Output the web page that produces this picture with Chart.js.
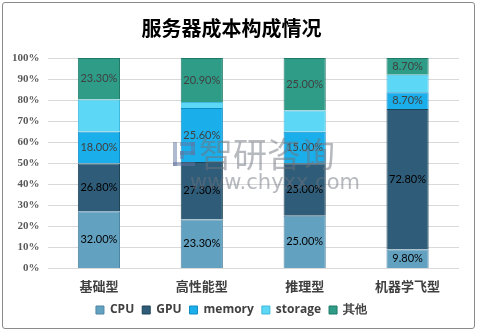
<!DOCTYPE html>
<html>
<head>
<meta charset="utf-8">
<script src="https://cdn.jsdelivr.net/npm/chart.js@4"></script>
<style>
  html, body { margin: 0; padding: 0; background: #fff; }
  #box {
    position: absolute; left: 2px; top: 2px;
    width: 473px; height: 327px;
    border: 1px solid #8a8a8a; border-radius: 3px;
    box-sizing: border-box; overflow: hidden;
  }
  #myChart { position: absolute; left: -3px; top: -3px; }
</style>
</head>
<body>
<div id="box"><canvas id="myChart" width="479" height="333"></canvas></div>
<script>
const categories = ["基础型", "高性能型", "推理型", "机器学飞型"];
const seriesNames = ["CPU", "GPU", "memory", "storage", "其他"];
const cpu = [32.0, 23.3, 25.0, 9.8];
const gpu = [26.8, 27.3, 25.0, 72.8];
const memory = [18.0, 25.6, 15.0, 8.7];
const storage = [17.9, 2.9, 10.0, 9.0];
const other = [23.3, 20.9, 25.0, 8.7];
const yTicks = [0, 10, 20, 30, 40, 50, 60, 70, 80, 90, 100];

const colors = ["#63a1c0", "#2f5c78", "#1aaeea", "#5cd8f6", "#2e9c87"];
const edges = ["#4f86a3", "#1d4357", "#0e8cc4", "#3fb8db", "#1f7a68"];
const labelColors = ["#000", "#000", "#404040", null, "#404040"];

const raw = [cpu, gpu, memory, storage, other];

// each category is shown as shares of its own total (100% stack)
const totals = categories.map((c, i) => raw.reduce((s, arr) => s + arr[i], 0));

const datasets = raw.map((arr, k) => ({
  label: seriesNames[k],
  data: arr.map((v, i) => v / totals[i] * 100),
  rawValues: arr,
  backgroundColor: colors[k],
  borderColor: edges[k],
  borderWidth: 1,
  barPercentage: 0.41,
  categoryPercentage: 1.0,
}));

// value labels in the middle of each segment
const segmentLabels = {
  id: "segmentLabels",
  afterDatasetsDraw(chart) {
    const ctx = chart.ctx;
    ctx.save();
    ctx.font = "11px Lato";
    ctx.textAlign = "center";
    ctx.textBaseline = "middle";
    chart.data.datasets.forEach((ds, k) => {
      if (!labelColors[k]) return;
      const meta = chart.getDatasetMeta(k);
      meta.data.forEach((bar, i) => {
        const y = (bar.y + bar.base) / 2;
        ctx.fillStyle = labelColors[k];
        ctx.fillText(ds.rawValues[i].toFixed(2) + "%", bar.x, y);
      });
    });
    ctx.restore();
  },
};

// site watermark across the middle
const watermark = {
  id: "watermark",
  afterDraw(chart) {
    const ctx = chart.ctx;
    ctx.save();
    // logo mark
    ctx.fillStyle = "rgba(95,115,160,0.5)";
    ctx.fillRect(173, 142, 4, 24);
    ctx.fillRect(173, 162, 22, 4);
    ctx.fillRect(180, 142, 15, 4);
    ctx.fillRect(191, 142, 4, 13);
    ctx.fillRect(180, 151, 15, 4);
    ctx.fillRect(180, 151, 4, 8);
    // name and address
    ctx.fillStyle = "rgba(110,115,125,0.5)";
    ctx.textBaseline = "middle";
    ctx.textAlign = "left";
    ctx.font = "34px 'Noto Sans CJK SC'";
    ctx.fillText("智研咨询", 199, 154);
    ctx.font = "21px 'DejaVu Sans'";
    ctx.fillText("www.chyxx.com", 190, 184);
    ctx.restore();
  },
};

const ctx = document.getElementById("myChart").getContext("2d");
const myChart = new Chart(ctx, {
  type: "bar",
  data: { labels: categories, datasets: datasets },
  plugins: [segmentLabels, watermark],
  options: {
    responsive: false,
    animation: false,
    layout: { padding: { top: 6, left: 4, right: 20, bottom: 7 } },
    plugins: {
      title: {
        display: true,
        text: "服务器成本构成情况",
        color: "#000",
        font: { family: "'Noto Sans CJK SC'", size: 20, weight: "bold" },
        padding: { top: 10, bottom: 18 },
      },
      legend: {
        position: "bottom",
        labels: {
          boxWidth: 8,
          boxHeight: 8,
          padding: 8,
          color: "#404040",
          font: { family: "'Open Sans'", size: 12, weight: "bold" },
        },
      },
      tooltip: { enabled: false },
    },
    scales: {
      x: {
        stacked: true,
        grid: { display: false },
        border: { display: false },
        ticks: {
          color: "#404040",
          padding: 2,
          font: { family: "'Noto Sans CJK SC'", size: 13, weight: "bold" },
        },
      },
      y: {
        stacked: true,
        min: 0,
        max: 100,
        afterBuildTicks(scale) {
          scale.ticks = yTicks.map(v => ({ value: v }));
        },
        grid: { color: "#d9d9d9", drawTicks: false },
        border: { display: false },
        ticks: {
          color: "#595959",
          padding: 8,
          font: { family: "'Liberation Serif'", size: 11, weight: "bold" },
          callback: v => v + "%",
        },
      },
    },
  },
});
</script>
</body>
</html>
